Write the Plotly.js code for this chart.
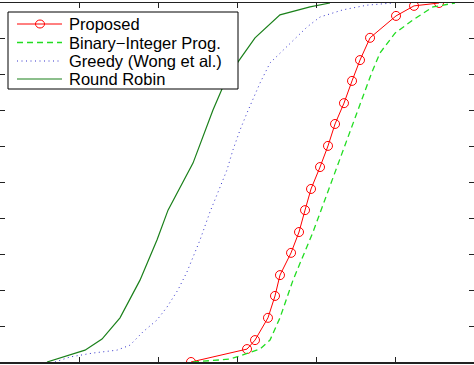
<!DOCTYPE html>
<html>
<head>
<meta charset="utf-8">
<script src="https://cdn.plot.ly/plotly-3.0.1.min.js"></script>
<style>html,body{margin:0;padding:0;background:#fff;}#chart{width:474px;height:365px;}</style>
</head>
<body>
<div id="chart"></div>
<script>
// Series data (x: metric value, y: CDF)
const proposedX = [2.418,3.127,3.228,3.392,3.481,3.544,3.684,3.785,3.861,3.937,4.051,4.152,4.241,4.354,4.456,4.557,4.684,5.013,5.241,5.557];
const proposedY = [0,0.036,0.061,0.123,0.184,0.242,0.304,0.362,0.423,0.482,0.543,0.602,0.663,0.721,0.783,0.841,0.903,0.964,0.992,1.0];

const bipX = [2.443,2.911,3.291,3.418,3.544,3.709,3.962,4.203,4.367,4.519,4.709,4.810,5.0,5.228,5.481,5.759];
const bipY = [0,0.008,0.036,0.061,0.123,0.228,0.362,0.507,0.604,0.694,0.808,0.861,0.916,0.953,0.989,1.0];

const greedyX = [0.696,0.886,1.177,1.481,1.646,1.810,1.987,2.114,2.253,2.367,2.532,2.658,2.785,2.873,2.949,3.038,3.127,3.203,3.291,3.418,3.582,3.759,3.886,4.051,4.342,4.646,4.975];
const greedyY = [0,0.014,0.025,0.033,0.047,0.084,0.117,0.153,0.201,0.251,0.340,0.418,0.487,0.535,0.591,0.646,0.694,0.735,0.777,0.833,0.869,0.905,0.933,0.961,0.981,0.994,1.0];

const rrX = [0.595,1.076,1.291,1.519,1.772,1.987,2.127,2.443,2.696,2.848,3.013,3.228,3.544,3.924,4.177];
const rrY = [0,0.033,0.064,0.123,0.228,0.340,0.423,0.554,0.702,0.780,0.836,0.903,0.967,0.989,1.0];

const names = ["Proposed", "Binary\u2212Integer Prog.", "Greedy (Wong et al.)", "Round Robin"];
const xTicks = [0,1,2,3,4,5,6];
const yTicks = [0,0.1,0.2,0.3,0.4,0.5,0.6,0.7,0.8,0.9,1.0];

const styles = [
  {color: '#ff0000', width: 1, dash: 'solid'},
  {color: '#22dd22', width: 1.3, dash: '6px,4px'},
  {color: '#3333cc', width: 1, dash: '1px,3.5px'},
  {color: '#1a801a', width: 1.2, dash: 'solid'}
];

const traces = [
  {x: proposedX, y: proposedY, name: names[0], mode: 'lines+markers', type: 'scatter',
   line: styles[0],
   marker: {symbol: 'circle-open', size: 9, color: '#ff0000', line: {width: 1, color: '#ff0000'}}},
  {x: bipX, y: bipY, name: names[1], mode: 'lines', type: 'scatter', line: styles[1]},
  {x: greedyX, y: greedyY, name: names[2], mode: 'lines', type: 'scatter', line: styles[2]},
  {x: rrX, y: rrY, name: names[3], mode: 'lines', type: 'scatter', line: styles[3]}
];

// Legend box drawn as decoration (paper coordinates from pixel positions)
const W = 474, T = 3, B = 362, H = B - T;
const pxX = v => v / W;
const pxY = v => (B - v) / H;
const legendRows = [24, 42.5, 61, 79];
const shapes = [{type: 'rect', xref: 'paper', yref: 'paper', x0: pxX(8), x1: pxX(238), y0: pxY(12), y1: pxY(89),
  line: {color: '#000', width: 1}, fillcolor: '#fff', layer: 'above'}];
const annotations = [];
legendRows.forEach((ry, i) => {
  shapes.push({type: 'line', xref: 'paper', yref: 'paper', x0: pxX(17), x1: pxX(62), y0: pxY(ry), y1: pxY(ry),
    line: {color: styles[i].color, width: styles[i].width, dash: styles[i].dash}, layer: 'above'});
  annotations.push({xref: 'paper', yref: 'paper', x: pxX(67), y: pxY(ry), xanchor: 'left', yanchor: 'middle',
    text: names[i], showarrow: false, font: {size: 16.5, color: '#000'}});
});
shapes.push({type: 'circle', xref: 'paper', yref: 'paper', x0: pxX(35.5), x1: pxX(44.5), y0: pxY(legendRows[0] + 4), y1: pxY(legendRows[0] - 4),
  line: {color: '#ff0000', width: 1}, fillcolor: 'rgba(0,0,0,0)', layer: 'above'});

const layout = {
  width: 474, height: 365,
  margin: {l: 0, r: 0, t: 3, b: 3, pad: 0},
  paper_bgcolor: '#ffffff', plot_bgcolor: '#ffffff',
  font: {family: '"Liberation Sans", Arial, Helvetica, sans-serif', size: 15, color: '#000'},
  showlegend: false,
  shapes: shapes,
  annotations: annotations,
  xaxis: {range: [0, 6], tickvals: xTicks, showticklabels: false, ticks: 'inside', ticklen: 5,
    tickcolor: '#222', tickwidth: 1, showline: true, linecolor: '#222', linewidth: 1.5,
    mirror: 'ticks', showgrid: false, zeroline: false},
  yaxis: {range: [0, 1], tickvals: yTicks, showticklabels: false, ticks: 'inside', ticklen: 5,
    tickcolor: '#222', tickwidth: 1, showline: false,
    mirror: 'ticks', showgrid: false, zeroline: false}
};

Plotly.newPlot('chart', traces, layout, {staticPlot: true, displayModeBar: false});
</script>
</body>
</html>
